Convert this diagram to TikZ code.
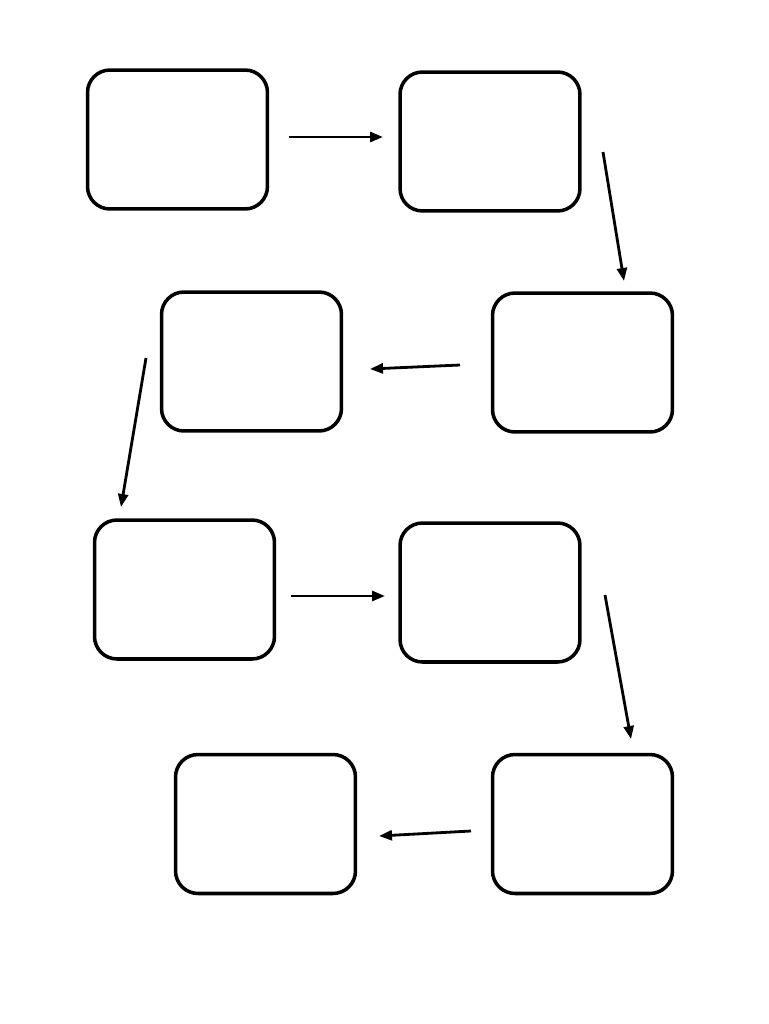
\documentclass[tikz,border=0pt]{standalone}
\usetikzlibrary{arrows.meta}
\tikzset{
  stagebox/.style={draw, line width=2pt, rounded corners=0.45cm, minimum width=3.6cm, minimum height=2.78cm},
  flowarrow/.style={line width=1.6pt, -{Triangle[length=0.26cm, width=0.2cm]}}
}
\begin{document}
\begin{tikzpicture}[x=0.02cm, y=-0.02cm]
            \useasboundingbox (0,0) rectangle (768,1024);
            % boxes
            \node[stagebox] (b1) at (177.5,139.5) {};
            \node[stagebox] (b2) at (490,141.5) {};
            \node[stagebox] (b3) at (582.5,362.5) {};
            \node[stagebox] (b4) at (251.5,361.5) {};
            \node[stagebox] (b5) at (184.5,589.5) {};
            \node[stagebox] (b6) at (490,592.5) {};
            \node[stagebox] (b7) at (582.5,824) {};
            \node[stagebox] (b8) at (265.5,824) {};
            % arrow ends
            \coordinate (a1s) at (289,137); \coordinate (a1e) at (383,137);
            \coordinate (a2s) at (603,152); \coordinate (a2e) at (624,281);
            \coordinate (a3s) at (460,365); \coordinate (a3e) at (370,369);
            \coordinate (a4s) at (146,358); \coordinate (a4e) at (121,507);
            \coordinate (a5s) at (291,596); \coordinate (a5e) at (385,596);
            \coordinate (a6s) at (605,595); \coordinate (a6e) at (631,739);
            \coordinate (a7s) at (471,831); \coordinate (a7e) at (379,836);
            \draw[flowarrow] (a1s) -- (a1e);
            \draw[flowarrow] (a2s) -- (a2e);
            \draw[flowarrow] (a3s) -- (a3e);
            \draw[flowarrow] (a4s) -- (a4e);
            \draw[flowarrow] (a5s) -- (a5e);
            \draw[flowarrow] (a6s) -- (a6e);
            \draw[flowarrow] (a7s) -- (a7e);
        \end{tikzpicture}
\end{document}
